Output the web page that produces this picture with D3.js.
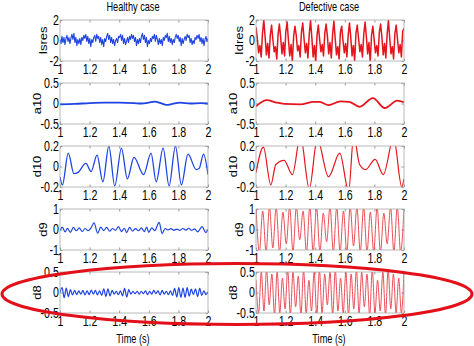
<!DOCTYPE html>
<html><head><meta charset="utf-8">
<script src="https://cdn.jsdelivr.net/npm/d3@7"></script>
<style>
body{margin:0;background:#fff}
svg{display:block}
text{font-family:"Liberation Sans",Arial,sans-serif;fill:#000}
</style>
</head><body>
<svg id="c" width="474" height="346"></svg>
<script>
// ---------- data ----------
const columnTitles = ["Healthy case", "Defective case"];
const leftLabels = ["Isres", "a10", "d10", "d9", "d8"];
const rightLabels = ["Idres", "a10", "d10", "d9", "d8"];
const xTicks = [1, 1.2, 1.4, 1.6, 1.8, 2];
const xTickLabels = ["1", "1.2", "1.4", "1.6", "1.8", "2"];
const yLimits = [2, 0.5, 0.2, 1, 0.5];
const yTicks = [[-2, 0, 2], [-0.5, 0, 0.5], [-0.2, 0, 0.2], [-1, 0, 1], [-0.5, 0, 0.5]];
const yTickLabels = [["-2", "0", "2"], ["-0.5", "0", "0.5"], ["-0.2", "0", "0.2"], ["-1", "0", "1"], ["-0.5", "0", "0.5"]];
const xLabel = "Time (s)";

// Healthy: Isres (evenly sampled 1..2 s)
const healthyIsres = [
0.1,-0.3,0.4,-0.2,0.3,-0.4,0.2,0.5,-0.1,0.3,
-0.3,0.2,0.6,0.1,0.7,-0.2,0.3,-0.5,0.1,-0.3,
0.2,-0.4,0.3,0.0,0.5,0.2,0.6,-0.1,0.4,-0.3,
0.2,-0.6,0.1,-0.2,0.3,0.5,-0.1,0.6,0.2,0.4,
-0.2,0.3,-0.4,0.1,-0.6,0.2,-0.1,0.4,0.7,0.1,
0.5,-0.2,0.3,-0.3,0.1,-0.5,0.0,0.2,-0.2,0.4,
0.3,0.6,0.0,0.5,-0.3,0.2,-0.4,-0.1,0.3,-0.2,
0.4,0.1,0.6,0.2,0.5,-0.1,0.3,-0.5,0.1,-0.3,
0.2,-0.2,0.4,0.7,0.1,0.5,-0.2,0.3,-0.6,0.0,
-0.3,0.2,-0.1,0.4,0.2,0.6,-0.1,0.5,0.1,-0.4,
0.2,-0.3,0.1,-0.5,0.3,0.0,0.5,0.3,0.7,-0.1,
0.4,-0.2,0.2,-0.4,0.1,-0.2,0.3,0.6,0.2,0.5,
-0.1,0.3,-0.5,0.2,-0.3,0.1,0.4,0.0,0.6,0.3,
0.5,-0.2,0.2,-0.4,0.0,-0.3,0.3,0.1,0.5,0.2,
0.6,-0.1,0.3,-0.3,0.2,-0.5,0.1,0.4,-0.1,0.2];

// Defective: Idres (evenly sampled 1..2 s)
const defectiveIdres = [
1.3,0.2,-1.2,-0.5,-1.6,0.7,
2.0,0.4,-1.4,-0.3,-1.7,0.5,
1.5,0.1,-1.1,-0.6,-1.8,0.6,
1.6,0.3,-1.3,-0.2,-1.5,0.9,
1.8,0.0,-1.5,-0.4,-2.0,0.4,
1.4,0.5,-1.0,-0.5,-1.6,0.8,
1.7,0.2,-1.2,-0.3,-1.7,0.6,
2.0,0.3,-1.6,-0.5,-2.1,0.5,
1.5,0.1,-1.1,-0.4,-1.5,0.7,
1.6,0.4,-1.3,-0.2,-1.7,0.6,
1.9,0.2,-1.4,-0.6,-1.8,0.8,
1.4,0.0,-1.2,-0.3,-1.6,0.5,
1.7,0.3,-1.5,-0.5,-2.0,0.7,
1.5,0.2,-1.1,-0.4,-1.6,0.6,
1.8,0.4,-1.3,-0.2,-2.1,0.5,
1.4,0.1,-1.2,-0.5,-1.5,0.8,
1.6,0.3,-1.4,-0.3,-1.7,0.6,
2.0,0.2,-1.3,-0.6,-1.8,0.7,
1.5,0.1,-1.2,-0.4,-1.6,0.9,
1.2];

// a10 (time / value pairs)
const healthyA10Time = [1.0,1.1,1.2,1.3,1.4,1.5,1.55,1.6,1.64,1.68,1.72,1.76,1.81,1.88,1.95,2.0];
const healthyA10 = [-0.02,-0.01,0.01,0.02,0.02,0.01,0.0,0.02,0.045,0.01,-0.035,-0.01,0.02,0.0,0.01,0.0];
const defectiveA10Time = [1.0,1.074,1.13,1.19,1.30,1.39,1.43,1.49,1.57,1.63,1.70,1.79,1.87,1.955,2.0];
const defectiveA10 = [-0.07,0.08,0.03,-0.01,-0.02,0.04,0.04,-0.04,0.05,0.04,-0.08,0.13,-0.11,0.07,0.03];

// d10
const healthyD10Time = [1.0,1.016,1.056,1.094,1.12,1.175,1.21,1.25,1.29,1.33,1.37,1.415,1.455,1.5,1.565,1.615,1.65,1.697,1.737,1.78,1.82,1.865,1.92,1.94,1.97,2.0];
const healthyD10 = [-0.1,-0.18,0.13,-0.07,-0.06,0.03,-0.05,0.11,-0.15,0.2,-0.19,0.18,-0.12,0.09,-0.08,0.13,-0.15,0.18,-0.19,0.2,-0.18,0.12,-0.03,-0.02,0.12,-0.08];
const defectiveD10Time = [1.0,1.05,1.10,1.134,1.19,1.246,1.30,1.36,1.414,1.49,1.566,1.626,1.66,1.70,1.74,1.805,1.86,1.93,1.985,2.0];
const defectiveD10 = [-0.06,0.19,-0.18,0.02,0.06,-0.08,0.3,-0.22,0.27,-0.10,0.13,-0.24,0.3,0.02,-0.03,0.07,-0.08,0.28,-0.2,-0.12];

// d9
const healthyD9Time = [1.00,1.015,1.035,1.05,1.07,1.09,1.11,1.13,1.15,1.17,1.19,1.21,1.23,1.255,1.275,1.295,1.315,1.335,1.355,1.375,1.395,1.415,1.435,1.45,1.47,1.49,1.51,1.53,1.55,1.57,1.585,1.60,1.62,1.64,1.67,1.69,1.71,1.73,1.75,1.77,1.79,1.81,1.83,1.85,1.87,1.89,1.91,1.93,1.96,1.985,2.00];
const healthyD9 = [-0.05,0.12,-0.12,0.06,-0.14,0.10,-0.06,0.08,-0.10,0.05,-0.06,0.08,0.32,-0.18,0.12,-0.05,0.10,-0.08,0.05,-0.04,0.14,-0.10,0.06,-0.15,0.10,-0.08,0.04,-0.06,0.08,-0.10,0.12,-0.14,0.08,-0.05,0.35,-0.20,0.05,-0.02,0.04,-0.03,0.02,-0.04,0.05,-0.03,0.06,-0.04,0.03,-0.12,0.14,-0.15,0.0];
// evenly spaced extrema 1..2 s
const defectiveD9 = [1.1,-1.1,0.9,-1.1,1.1,-0.9,1.1,-1.1,0.85,-0.7,1.1,-1.1,1.1,-0.5,0.9,-1.1,1.1,-1.1,1.1,-1.1,0.8,-0.6,1.1,-1.1,1.1,-1.1,0.9,-1.1,1.1,-0.8,1.1,-1.1,1.1,-1.1,0.85,-1.1,1.1,-1.1,0.8,-0.7,1.1,-1.1,1.1,-1.1,1.0];

// d8 (evenly spaced extrema 1..2 s)
const healthyD8 = [
0.0,0.12,-0.13,0.11,-0.10,0.07,-0.06,0.05,-0.05,0.04,
-0.04,0.05,-0.06,0.04,-0.05,0.06,-0.04,0.05,-0.06,0.04,
-0.07,0.09,-0.10,0.09,-0.08,0.05,-0.04,0.03,-0.05,0.04,
-0.08,0.10,-0.11,0.07,-0.04,0.03,-0.03,0.03,-0.04,0.03,
-0.03,0.04,-0.05,0.03,-0.04,0.05,-0.03,0.04,-0.06,0.05,
-0.04,0.03,-0.05,0.04,-0.07,0.10,-0.11,0.12,-0.12,0.11,
-0.12,0.12,-0.09,0.08,-0.05,0.09,-0.10,0.10,-0.07,0.04,-0.05,0.02];
const defectiveD8 = [
0.3,-0.5,0.5,-0.45,0.55,-0.3,0.45,-0.55,0.5,-0.5,
0.35,-0.4,0.55,-0.55,0.5,-0.35,0.4,-0.55,0.55,-0.5,
0.3,-0.45,0.5,-0.55,0.55,-0.5,0.45,-0.3,0.5,-0.55,
0.55,-0.45,0.35,-0.5,0.5,-0.55,0.45,-0.4,0.55,-0.5,
0.5,-0.35,0.45,-0.55,0.55,-0.5,0.3,-0.45,0.5,-0.55,
0.55,-0.4,0.45,-0.5,0.35,-0.5,0.5];

// ---------- layout ----------
const colX = [60, 256];
const plotW = 148;
const rowY = [20, 83, 146, 209, 272];
const plotH = 41;
const blue = "#1f44e4", red = "#e6141c";
const squeeze = 0.76;      // the reference text is horizontally condensed
const squeezeTitle = 0.68;

function even(vals) { return vals.map((v, i) => [1 + i / (vals.length - 1), v]); }
function paired(ts, vs) { return ts.map((t, i) => [t, vs[i]]); }

const panels = [
  {col:0,row:0,data:even(healthyIsres),curve:d3.curveLinear,color:blue,w:1.1},
  {col:0,row:1,data:paired(healthyA10Time,healthyA10),curve:d3.curveMonotoneX,color:blue,w:1.8},
  {col:0,row:2,data:paired(healthyD10Time,healthyD10),curve:d3.curveMonotoneX,color:blue,w:1.3},
  {col:0,row:3,data:paired(healthyD9Time,healthyD9),curve:d3.curveMonotoneX,color:blue,w:1.2},
  {col:0,row:4,data:even(healthyD8),curve:d3.curveMonotoneX,color:blue,w:1.2},
  {col:1,row:0,data:even(defectiveIdres),curve:d3.curveLinear,color:red,w:1.5},
  {col:1,row:1,data:paired(defectiveA10Time,defectiveA10),curve:d3.curveMonotoneX,color:red,w:1.8},
  {col:1,row:2,data:paired(defectiveD10Time,defectiveD10),curve:d3.curveMonotoneX,color:red,w:1.2},
  {col:1,row:3,data:even(defectiveD9),curve:d3.curveMonotoneX,color:"#e83a44",w:0.9},
  {col:1,row:4,data:even(defectiveD8),curve:d3.curveMonotoneX,color:"#e83a44",w:0.9}
];

const svg = d3.select("#c");
const defs = svg.append("defs");
const x = d3.scaleLinear().domain([1, 2]).range([0, plotW]);

panels.forEach((p, k) => {
  const m = yLimits[p.row];
  const y = d3.scaleLinear().domain([-m, m]).range([plotH, 0]);
  const g = svg.append("g").attr("transform", `translate(${colX[p.col]},${rowY[p.row]})`);
  defs.append("clipPath").attr("id", "cp" + k).append("rect").attr("width", plotW).attr("height", plotH);
  g.append("rect").attr("width", plotW).attr("height", plotH).attr("fill", "#fff");

  const tl = yTickLabels[p.row];
  const ax = [
    g.append("g").attr("transform", `translate(0,${plotH})`).call(d3.axisBottom(x).tickValues(xTicks).tickFormat((d, i) => xTickLabels[i]).tickSize(-2.5).tickPadding(3.5)),
    g.append("g").call(d3.axisTop(x).tickValues(xTicks).tickFormat("").tickSize(-2.5)),
    g.append("g").call(d3.axisLeft(y).tickValues(yTicks[p.row]).tickFormat((d, i) => tl[i]).tickSize(-2.5).tickPadding(1.5)),
    g.append("g").attr("transform", `translate(${plotW},0)`).call(d3.axisRight(y).tickValues(yTicks[p.row]).tickFormat("").tickSize(-2.5))
  ];
  ax.forEach(a => {
    a.select(".domain").remove();
    a.selectAll(".tick line").attr("stroke", "#999");
    a.selectAll("text").attr("font-size", 14).attr("fill", "#000")
      .attr("font-family", '"Liberation Sans",Arial,sans-serif')
      .attr("transform", `scale(${squeeze},1)`);
  });

  g.append("path").datum(p.data)
    .attr("clip-path", `url(#cp${k})`)
    .attr("fill", "none").attr("stroke", p.color).attr("stroke-width", p.w).attr("stroke-linejoin", "round")
    .attr("d", d3.line().x(d => x(d[0])).y(d => y(d[1])).curve(p.curve));

  g.append("rect").attr("width", plotW).attr("height", plotH).attr("fill", "none").attr("stroke", "#a8a8a8").attr("stroke-width", 0.8);

  const labels = p.col === 0 ? leftLabels : rightLabels;
  const off = (p.row === 0 || p.row === 3) ? 17 : 23;
  svg.append("text")
    .attr("transform", `translate(${colX[p.col] - off},${rowY[p.row] + plotH / 2}) rotate(-90) scale(1,0.9)`)
    .attr("text-anchor", "middle").attr("dy", "0.35em").attr("font-size", 13)
    .text(labels[p.row]);
});

columnTitles.forEach((t, c) => {
  const cx = colX[c] + plotW / 2 - 1;
  svg.append("text").attr("transform", `translate(${cx},11) scale(${squeezeTitle},1)`).attr("text-anchor", "middle")
    .attr("font-size", 13.5).text(t);
  svg.append("text").attr("transform", `translate(${cx},343) scale(${squeezeTitle},1)`).attr("text-anchor", "middle")
    .attr("font-size", 13.5).text(xLabel);
});

// highlight ellipse
svg.append("ellipse").attr("cx", 237).attr("cy", 294).attr("rx", 235).attr("ry", 30.5)
  .attr("fill", "none").attr("stroke", "#e3101a").attr("stroke-width", 3);
</script>
</body></html>
